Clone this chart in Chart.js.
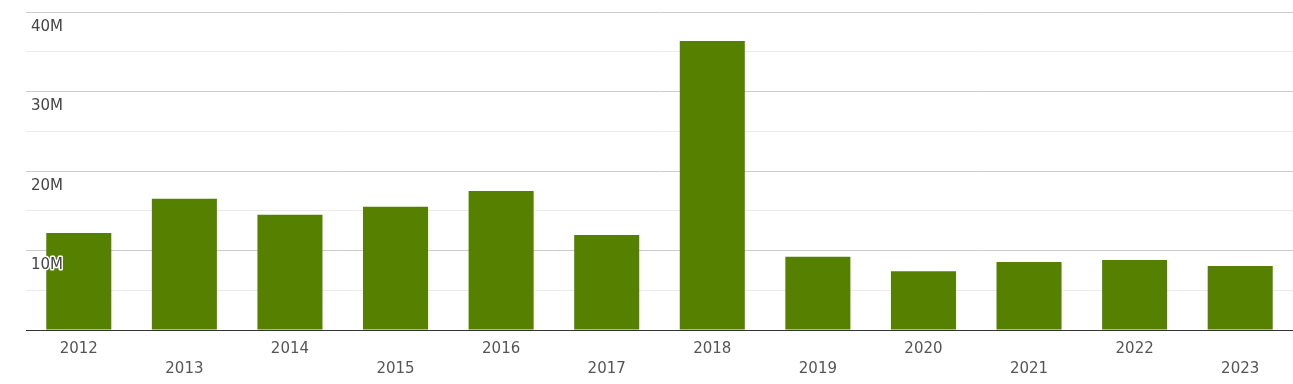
<!DOCTYPE html>
<html>
<head>
<meta charset="utf-8">
<script src="https://cdn.jsdelivr.net/npm/chart.js@4"></script>
<style>
  html, body { margin: 0; padding: 0; background: #fff; }
  #wrap { width: 1293px; height: 384px; }
</style>
</head>
<body>
<div id="wrap"><canvas id="grafico"></canvas></div>
<script>
const years = ['2012', '2013', '2014', '2015', '2016', '2017', '2018', '2019', '2020', '2021', '2022', '2023'];
const values = [12.2, 16.5, 14.5, 15.5, 17.5, 11.95, 36.35, 9.2, 7.4, 8.55, 8.8, 8.05].map(v => v * 1e6);
const yTicks = { 10000000: '10M', 20000000: '20M', 30000000: '30M', 40000000: '40M' };

// even years on first row, odd years on second row
const labels = years.map((y, i) => i % 2 === 0 ? [y] : ['', y]);

// round joins so the white halo around labels has no spikes
const roundJoin = {
  id: 'roundJoin',
  beforeDraw(chart) { chart.ctx.lineJoin = 'round'; }
};

new Chart(document.getElementById('grafico'), {
  type: 'bar',
  data: {
    labels: labels,
    datasets: [{
      data: values,
      backgroundColor: '#558000',
      borderWidth: 0,
      barPercentage: 0.616,
      categoryPercentage: 1
    }]
  },
  options: {
    responsive: true,
    maintainAspectRatio: false,
    animation: false,
    layout: { padding: { top: 12, bottom: 0, left: 0, right: 0 } },
    plugins: {
      legend: { display: false },
      tooltip: { enabled: false }
    },
    scales: {
      x: {
        afterFit: s => { s.height = 54; },
        grid: { display: false, drawTicks: false },
        border: { display: true, color: '#333', width: 1 },
        ticks: {
          autoSkip: false,
          maxRotation: 0,
          padding: 9,
          color: '#555',
          font: { family: 'DejaVu Sans', size: 15, lineHeight: 1.333 }
        }
      },
      y: {
        min: 0,
        max: 40000000,
        afterFit: s => { s.width = 26; s.paddingTop = 0; s.paddingBottom = 0; },
        border: { display: false },
        grid: {
          drawTicks: false,
          color: ctx => (ctx.tick && ctx.tick.value % 10000000 === 0) ? '#cccccc' : '#ebebeb'
        },
        ticks: {
          stepSize: 5000000,
          mirror: true,
          padding: 5,
          labelOffset: 15,
          z: 1,
          color: '#444',
          textStrokeColor: '#fff',
          textStrokeWidth: 3,
          font: { family: 'DejaVu Sans', size: 15 },
          callback: v => yTicks[v] || ''
        }
      }
    }
  },
  plugins: [roundJoin]
});
</script>
</body>
</html>
